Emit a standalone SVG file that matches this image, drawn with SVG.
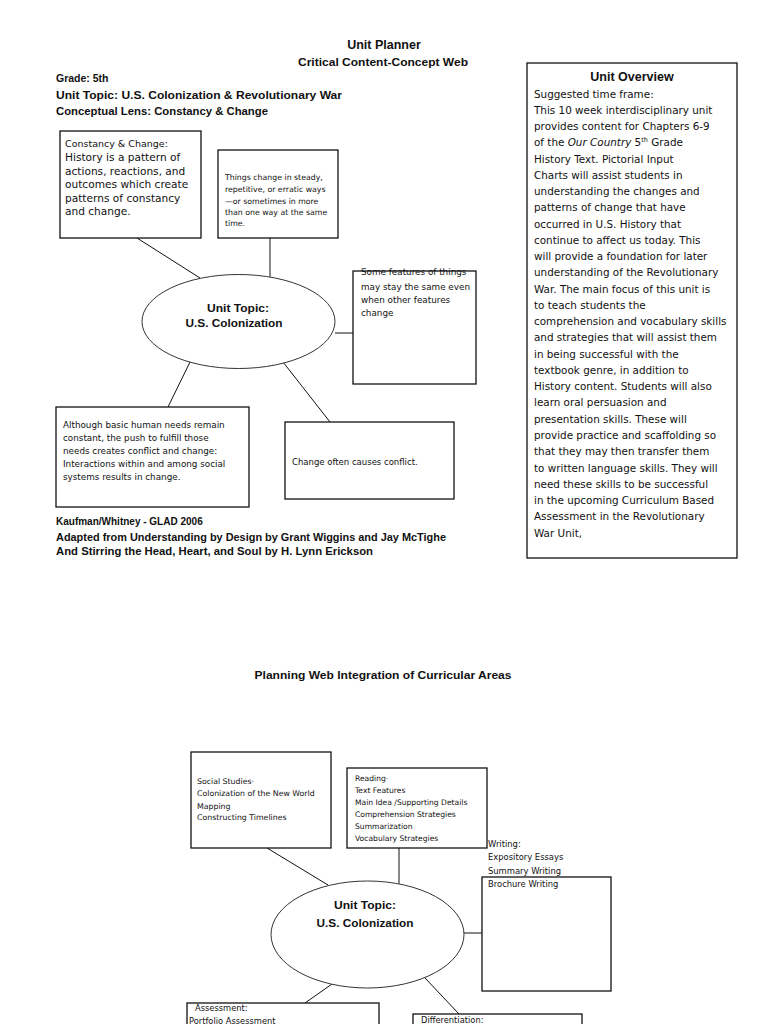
<svg xmlns="http://www.w3.org/2000/svg" width="768" height="1024" viewBox="0 0 768 1024">
<style>
  .bg{fill:#fff}
  .box{fill:#fff;stroke:#111;stroke-width:1.3}
  .ell{fill:#fff;stroke:#333;stroke-width:1}
  .con line{stroke:#111;stroke-width:1}
  text{font-family:"DejaVu Sans","Liberation Sans",sans-serif;fill:#111}
  .b{font-weight:bold;font-family:"Liberation Sans","DejaVu Sans",sans-serif}
  .mid{text-anchor:middle}
</style>
<rect class="bg" x="0" y="0" width="768" height="1024"/>

<g id="header">
  <text class="b mid" x="384" y="49" font-size="12.5">Unit Planner</text>
  <text class="b mid" x="383" y="66" font-size="10.5" textLength="170" lengthAdjust="spacingAndGlyphs">Critical Content-Concept Web</text>
  <text class="b" x="56" y="82" font-size="10.5">Grade: 5th</text>
  <text class="b" x="56" y="99" font-size="10.5" textLength="286" lengthAdjust="spacingAndGlyphs">Unit Topic: U.S. Colonization &amp; Revolutionary War</text>
  <text class="b" x="56" y="115" font-size="10.5" textLength="212" lengthAdjust="spacingAndGlyphs">Conceptual Lens: Constancy &amp; Change</text>
</g>

<g id="connectors-top" class="con">
  <line x1="137" y1="238" x2="200" y2="278"/>
  <line x1="270" y1="238" x2="270" y2="277"/>
  <line x1="335" y1="333" x2="353" y2="333"/>
  <line x1="190" y1="362" x2="168" y2="407"/>
  <line x1="283" y1="362" x2="330" y2="422"/>
</g>

<g id="box-constancy">
  <rect class="box" x="60" y="131" width="141" height="107"/>
  <text x="65" y="147" font-size="9.5">Constancy &amp; Change:</text>
  <text x="65" y="161" font-size="10.6">History is a pattern of</text>
  <text x="65" y="174.5" font-size="10.6">actions, reactions, and</text>
  <text x="65" y="188" font-size="10.6">outcomes which create</text>
  <text x="65" y="201.5" font-size="10.6">patterns of constancy</text>
  <text x="65" y="215" font-size="10.6">and change.</text>
</g>

<g id="box-things">
  <rect class="box" x="218" y="150" width="120" height="88"/>
  <text x="225" y="180" font-size="7.8">Things change in steady,</text>
  <text x="225" y="192" font-size="7.8">repetitive, or erratic ways</text>
  <text x="225" y="204" font-size="7.8">—or sometimes in more</text>
  <text x="225" y="215" font-size="7.8">than one way at the same</text>
  <text x="225" y="226" font-size="7.8">time.</text>
</g>

<g id="topic-top">
  <ellipse class="ell" cx="238.5" cy="321.5" rx="96.5" ry="47"/>
  <text class="b mid" x="238" y="312" font-size="10.5" textLength="62" lengthAdjust="spacingAndGlyphs">Unit Topic:</text>
  <text class="b mid" x="234" y="327" font-size="10.5" textLength="97" lengthAdjust="spacingAndGlyphs">U.S. Colonization</text>
</g>

<g id="box-features">
  <rect class="box" x="353" y="271" width="123" height="113"/>
  <text x="361" y="275" font-size="8.8">Some features of things</text>
  <text x="361" y="290" font-size="8.8">may stay the same even</text>
  <text x="361" y="303" font-size="8.8">when other features</text>
  <text x="361" y="316" font-size="8.8">change</text>
</g>

<g id="box-needs">
  <rect class="box" x="56" y="407" width="193" height="100"/>
  <text x="63" y="428" font-size="8.8">Although basic human needs remain</text>
  <text x="63" y="441" font-size="8.8">constant, the push to fulfill those</text>
  <text x="63" y="454" font-size="8.8">needs creates conflict and change:</text>
  <text x="63" y="467" font-size="8.8">Interactions within and among social</text>
  <text x="63" y="480" font-size="8.8">systems results in change.</text>
</g>

<g id="box-conflict">
  <rect class="box" x="285" y="422" width="169" height="77"/>
  <text x="292" y="465" font-size="8.5">Change often causes conflict.</text>
</g>

<g id="footer">
  <text class="b" x="56" y="525" font-size="10">Kaufman/Whitney - GLAD 2006</text>
  <text class="b" x="56" y="541" font-size="10" textLength="390" lengthAdjust="spacingAndGlyphs">Adapted from Understanding by Design by Grant Wiggins and Jay McTighe</text>
  <text class="b" x="56" y="555" font-size="10" textLength="317" lengthAdjust="spacingAndGlyphs">And Stirring the Head, Heart, and Soul by H. Lynn Erickson</text>
</g>

<g id="overview" font-size="10.4">
  <rect class="box" x="527" y="63" width="210" height="495"/>
  <text class="b mid" x="632" y="81" font-size="12.5">Unit Overview</text>
  <text x="534" y="97.5">Suggested time frame:</text>
  <text x="534" y="113.8">This 10 week interdisciplinary unit</text>
  <text x="534" y="130">provides content for Chapters 6-9</text>
  <text x="534" y="146.3">of the <tspan font-style="italic">Our Country</tspan> 5<tspan font-size="6.5" dy="-4">th</tspan><tspan dy="4"> Grade</tspan></text>
  <text x="534" y="162.5">History Text.  Pictorial Input</text>
  <text x="534" y="178.8">Charts will assist students in</text>
  <text x="534" y="195.1">understanding the changes and</text>
  <text x="534" y="211.3">patterns of change that have</text>
  <text x="534" y="227.6">occurred in U.S. History that</text>
  <text x="534" y="243.8">continue to affect us today.  This</text>
  <text x="534" y="260.1">will provide a foundation for later</text>
  <text x="534" y="276.4">understanding of the Revolutionary</text>
  <text x="534" y="292.6">War.  The main focus of this unit is</text>
  <text x="534" y="308.9">to teach students the</text>
  <text x="534" y="325.1">comprehension and vocabulary skills</text>
  <text x="534" y="341.4">and strategies that will assist them</text>
  <text x="534" y="357.7">in being successful with the</text>
  <text x="534" y="373.9">textbook genre, in addition to</text>
  <text x="534" y="390.2">History content.  Students will also</text>
  <text x="534" y="406.4">learn oral persuasion and</text>
  <text x="534" y="422.7">presentation skills.  These will</text>
  <text x="534" y="439">provide practice and scaffolding so</text>
  <text x="534" y="455.2">that they may then transfer them</text>
  <text x="534" y="471.5">to written language skills.  They will</text>
  <text x="534" y="487.7">need these skills to be successful</text>
  <text x="534" y="504">in the upcoming Curriculum  Based</text>
  <text x="534" y="520.3">Assessment in the Revolutionary</text>
  <text x="534" y="536.5">War Unit,</text>
</g>

<g id="title-bottom">
  <text class="b mid" x="383" y="679" font-size="10" textLength="257" lengthAdjust="spacingAndGlyphs">Planning Web Integration of Curricular Areas</text>
</g>

<g id="connectors-bottom" class="con">
  <line x1="267" y1="848" x2="328" y2="885"/>
  <line x1="399" y1="848" x2="399" y2="884"/>
  <line x1="464" y1="933" x2="482" y2="933"/>
  <line x1="332" y1="984" x2="305" y2="1003"/>
  <line x1="425" y1="978" x2="459" y2="1014"/>
</g>

<g id="box-social">
  <rect class="box" x="191" y="752" width="140" height="96"/>
  <text x="197" y="784" font-size="7.8">Social Studies·</text>
  <text x="197" y="796" font-size="7.8">Colonization of the New World</text>
  <text x="197" y="809" font-size="7.8">Mapping</text>
  <text x="197" y="820" font-size="7.8">Constructing Timelines</text>
</g>

<g id="box-reading">
  <rect class="box" x="347" y="768" width="140" height="80"/>
  <text x="355" y="781" font-size="7.6">Reading·</text>
  <text x="355" y="792.5" font-size="7.6">Text Features</text>
  <text x="355" y="805" font-size="7.6">Main Idea /Supporting Details</text>
  <text x="355" y="817" font-size="7.6">Comprehension Strategies</text>
  <text x="355" y="829" font-size="7.6">Summarization</text>
  <text x="355" y="841" font-size="7.6">Vocabulary Strategies</text>
</g>

<g id="topic-bottom">
  <ellipse class="ell" cx="367.5" cy="934.5" rx="96.5" ry="53.5"/>
  <text class="b mid" x="365" y="909" font-size="10.5" textLength="62" lengthAdjust="spacingAndGlyphs">Unit Topic:</text>
  <text class="b mid" x="365" y="927" font-size="10.5" textLength="97" lengthAdjust="spacingAndGlyphs">U.S. Colonization</text>
</g>

<g id="box-writing">
  <text x="488" y="847" font-size="8.4">Writing:</text>
  <text x="488" y="860" font-size="8.4">Expository Essays</text>
  <text x="488" y="874" font-size="8.4">Summary Writing</text>
  <rect class="box" x="482" y="877" width="129" height="114"/>
  <text x="488" y="887" font-size="8.4">Brochure Writing</text>
</g>

<g id="box-assessment">
  <rect class="box" x="187" y="1003" width="192" height="40"/>
  <text x="195" y="1011" font-size="8.3">Assessment:</text>
  <text x="189" y="1024" font-size="8.3">Portfolio Assessment</text>
</g>

<g id="box-differentiation">
  <rect class="box" x="413" y="1014" width="169" height="30"/>
  <text x="421" y="1023" font-size="8.3">Differentiation:</text>
</g>
</svg>
